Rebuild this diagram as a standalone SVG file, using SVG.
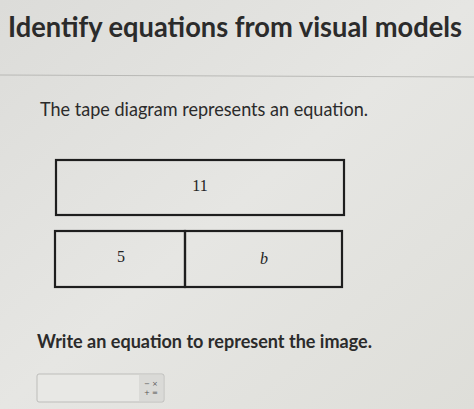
<svg xmlns="http://www.w3.org/2000/svg" width="474" height="409" viewBox="0 0 474 409">
<defs>
<linearGradient id="bg" x1="0" y1="0" x2="1" y2="1">
<stop offset="0" stop-color="#dcdcd9"/>
<stop offset="0.5" stop-color="#e6e6e3"/>
<stop offset="1" stop-color="#deded9"/>
</linearGradient>
</defs>
<style>
.tape{fill:none;stroke:#1e1e1e;stroke-width:2.2}
.math{font-family:"Liberation Serif",serif;font-size:16px;fill:#222;text-anchor:middle}
.ui{font-family:Lato,"Open Sans",sans-serif;fill:#2b2b2b}
</style>
<rect width="474" height="409" fill="url(#bg)"/>
<text class="ui" x="8" y="37" font-size="28" font-weight="bold" fill="#262626" textLength="454" lengthAdjust="spacingAndGlyphs">Identify equations from visual models</text>
<line x1="0" y1="75" x2="474" y2="77" stroke="#b9b9b6" stroke-width="1"/>
<text class="ui" x="40" y="116" font-size="19" textLength="328" lengthAdjust="spacingAndGlyphs">The tape diagram represents an equation.</text>
<g id="tape-total">
<rect class="tape" x="56" y="160" width="288" height="55"/>
<text class="math" x="200" y="191">11</text>
</g>
<g id="tape-parts">
<g id="part-5">
<rect class="tape" x="55" y="231" width="130" height="56"/>
<text class="math" x="121" y="262">5</text>
</g>
<g id="part-b">
<rect class="tape" x="185" y="231" width="157" height="56"/>
<text class="math" x="264" y="264" font-style="italic">b</text>
</g>
</g>
<text class="ui" x="37" y="348" font-size="19" font-weight="bold" textLength="335" lengthAdjust="spacingAndGlyphs">Write an equation to represent the image.</text>
<g id="answer-box">
<rect x="37" y="374" width="127" height="28" rx="2" fill="#e8e8e5" stroke="#bdbdba" stroke-width="1"/>
<rect x="139" y="375" width="24" height="26" fill="#dadad7"/>
<text x="151" y="386" font-family="'DejaVu Sans',sans-serif" font-size="7" fill="#555" text-anchor="middle">− ×</text>
<text x="151" y="395" font-family="'DejaVu Sans',sans-serif" font-size="7" fill="#555" text-anchor="middle">+ =</text>
</g>
</svg>
